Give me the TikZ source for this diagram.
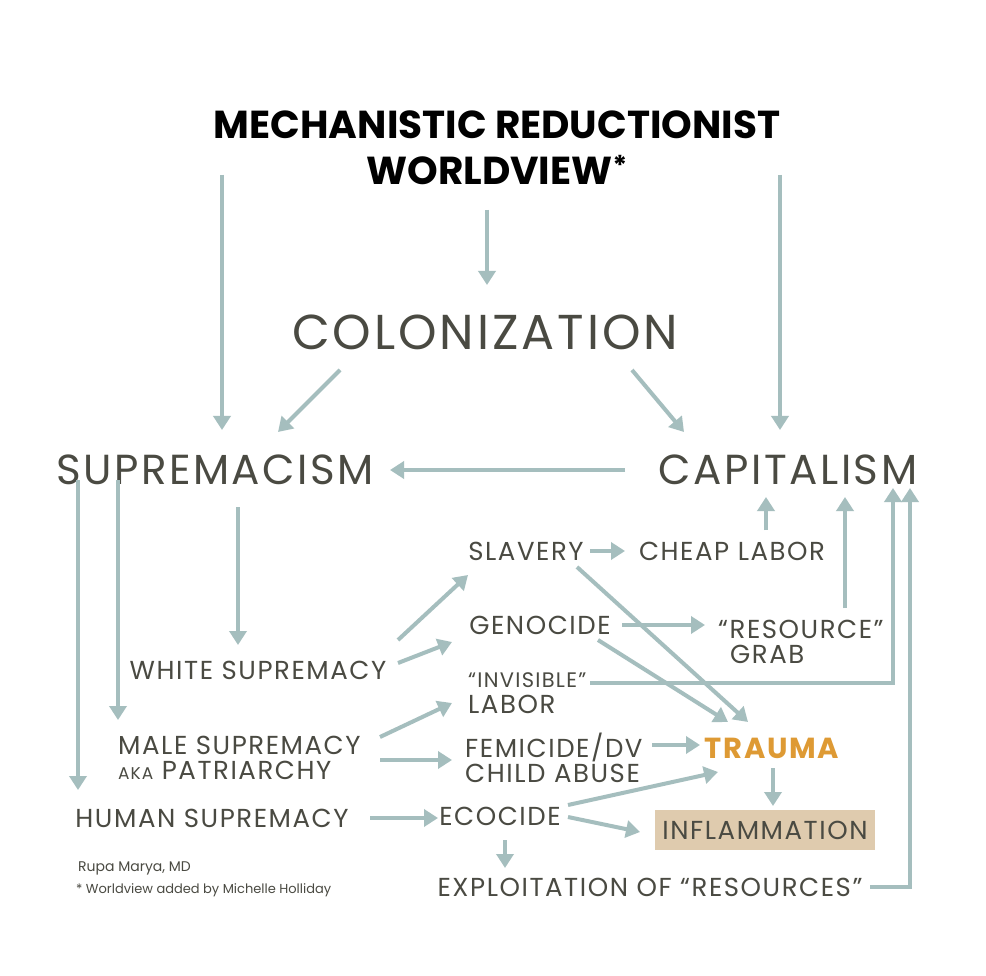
\documentclass[tikz,border=0pt]{standalone}
\usepackage{fontspec}
\setmainfont{Poppins}
\newfontfamily\spaced[LetterSpace=6]{Poppins}
\usetikzlibrary{arrows.meta}
\definecolor{arr}{HTML}{A5BEBE}
\definecolor{txt}{HTML}{4A4A42}
\definecolor{org}{HTML}{DE9A34}
\definecolor{tan}{HTML}{DFCBAE}
\tikzset{
 ar/.style={draw=arr,line width=4pt,-{Triangle[length=14pt,width=17pt]}},
 sm/.style={text=txt,font=\spaced\fontsize{26}{29}\selectfont,inner sep=0pt,align=left},
 big/.style={text=txt,font=\spaced\fontsize{42}{44}\selectfont,inner sep=0pt},
}
\begin{document}
\begin{tikzpicture}[x=1pt,y=-1pt]
\useasboundingbox[fill=white] (0,0) rectangle (986,976);
\node[text=black,font=\bfseries\fontsize{39}{46}\selectfont,align=center,inner sep=0pt] (title) at (497,148) {MECHANISTIC REDUCTIONIST\\WORLDVIEW\textsuperscript{*}};
\node[big,font=\spaced\fontsize{49}{50}\selectfont] (col) at (485,332) {COLONIZATION};
\node[big] (sup) at (215,470) {SUPREMACISM};
\node[big] (cap) at (788,470) {CAPITALISM};
\node[sm] (sla) at (526,551) {SLAVERY};
\node[sm] (chp) at (732,551) {CHEAP LABOR};
\node[sm] (gen) at (540,625) {GENOCIDE};
\node[sm,anchor=west] (grb) at (718,642) {“RESOURCE”\\[-4pt]\hspace*{12pt}GRAB};
\node[sm] (whi) at (258,670) {WHITE SUPREMACY};
\node[sm,anchor=west] (inv) at (468,693) {\fontsize{21}{23}\selectfont “INVISIBLE”\\[-3pt]LABOR};
\node[sm,anchor=west] (mal) at (118,758) {MALE SUPREMACY\\[-4pt]{\fontsize{17}{18}\selectfont AKA} PATRIARCHY};
\node[sm,anchor=west] (fem) at (465,758) {FEMICIDE/DV\\[-4pt]CHILD ABUSE};
\node[text=org,font=\bfseries\spaced\fontsize{29}{30}\selectfont,inner sep=0pt] (tra) at (772,748) {TRAUMA};
\node[sm] (hum) at (212,818) {HUMAN SUPREMACY};
\node[sm] (eco) at (500,816) {ECOCIDE};
\node[sm,fill=tan,minimum width=220pt,minimum height=40pt] (inf) at (765,830) {INFLAMMATION};
\node[sm] (exp) at (650,887) {EXPLOITATION OF “RESOURCES”};
\node[text=txt,font=\fontsize{14}{16}\selectfont,anchor=west,inner sep=0pt] (rupa) at (78,868) {Rupa Marya, MD};
\node[text=txt,font=\fontsize{13}{15}\selectfont,anchor=west,inner sep=0pt] (foot) at (76,890) {* Worldview added by Michelle Holliday};
\coordinate (t1) at (222,175); \coordinate (s1) at (222,430);
\coordinate (t2) at (780,175); \coordinate (c2) at (780,430);
\coordinate (t3) at (487,210); \coordinate (c3) at (487,285);
\draw[ar] (t1) -- (s1);
\draw[ar] (t2) -- (c2);
\draw[ar] (t3) -- (c3);
\draw[ar] (340,370) -- (278,432);
\draw[ar] (632,370) -- (684,432);
\draw[ar] (625,470) -- (390,470);
\draw[ar] (78,480) -- (78,790);
\draw[ar] (118,480) -- (118,720);
\draw[ar] (238,507) -- (238,645);
\draw[ar] (398,640) -- (468,575);
\draw[ar] (398,663) -- (452,642);
\draw[ar] (380,737) -- (452,703);
\draw[ar] (380,760) -- (452,760);
\draw[ar] (370,818) -- (438,818);
\draw[ar] (590,551) -- (625,551);
\draw[ar] (766,530) -- (766,497);
\draw[ar] (845,608) -- (845,497);
\draw[ar] (622,625) -- (705,625);
\draw[ar] (590,683) -- (893,683) -- (893,488);
\draw[ar] (870,887) -- (910,887) -- (910,488);
\draw[ar] (577,567) -- (748,722);
\draw[ar] (598,640) -- (728,722);
\draw[ar] (652,745) -- (700,745);
\draw[ar] (568,805) -- (718,772);
\draw[ar] (568,817) -- (640,832);
\draw[ar] (505,840) -- (505,868);
\draw[ar] (773,768) -- (773,806);
\end{tikzpicture}
\end{document}
